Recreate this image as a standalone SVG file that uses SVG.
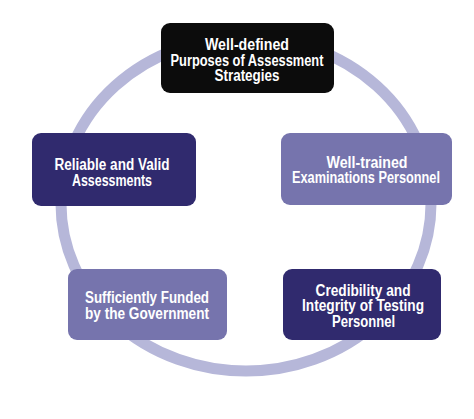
<svg xmlns="http://www.w3.org/2000/svg" width="474" height="419" viewBox="0 0 474 419">
<style>
.box{stroke:none}
.dark{fill:#302a6e}
.light{fill:#7674ad}
.black{fill:#0c0c0c}
.ring{fill:none;stroke:#b6b7d9;stroke-width:11}
text{font-family:"Liberation Sans",Arial,sans-serif;font-weight:bold;font-size:16px;fill:#ffffff;text-anchor:middle}
</style>
<rect width="474" height="419" fill="#ffffff"/>
<g id="connectors">
<ellipse class="ring" cx="246" cy="204" rx="185" ry="167"/>
</g>
<g id="node-purposes">
<rect class="box black" x="161" y="23" width="173" height="70" rx="9"/>
<text x="247" y="50" textLength="84" lengthAdjust="spacingAndGlyphs">Well-defined</text>
<text x="247" y="65.5" textLength="153" lengthAdjust="spacingAndGlyphs">Purposes of Assessment</text>
<text x="247" y="81" textLength="65" lengthAdjust="spacingAndGlyphs">Strategies</text>
</g>
<g id="node-reliable">
<rect class="box dark" x="32" y="133" width="164" height="73" rx="9"/>
<text x="112" y="170" textLength="115" lengthAdjust="spacingAndGlyphs">Reliable and Valid</text>
<text x="112" y="185.5" textLength="80" lengthAdjust="spacingAndGlyphs">Assessments</text>
</g>
<g id="node-trained">
<rect class="box light" x="281" y="133" width="171" height="72" rx="9"/>
<text x="367" y="167.5" textLength="81" lengthAdjust="spacingAndGlyphs">Well-trained</text>
<text x="366" y="183.3" textLength="148" lengthAdjust="spacingAndGlyphs">Examinations Personnel</text>
</g>
<g id="node-funded">
<rect class="box light" x="68" y="269" width="159" height="71" rx="9"/>
<text x="147" y="303" textLength="124" lengthAdjust="spacingAndGlyphs">Sufficiently Funded</text>
<text x="147" y="318.5" textLength="124" lengthAdjust="spacingAndGlyphs">by the Government</text>
</g>
<g id="node-credibility">
<rect class="box dark" x="283" y="269" width="158" height="71" rx="9"/>
<text x="363" y="295.5" textLength="95" lengthAdjust="spacingAndGlyphs">Credibility and</text>
<text x="363" y="311" textLength="122" lengthAdjust="spacingAndGlyphs">Integrity of Testing</text>
<text x="363.5" y="326.5" textLength="63" lengthAdjust="spacingAndGlyphs">Personnel</text>
</g>
</svg>
